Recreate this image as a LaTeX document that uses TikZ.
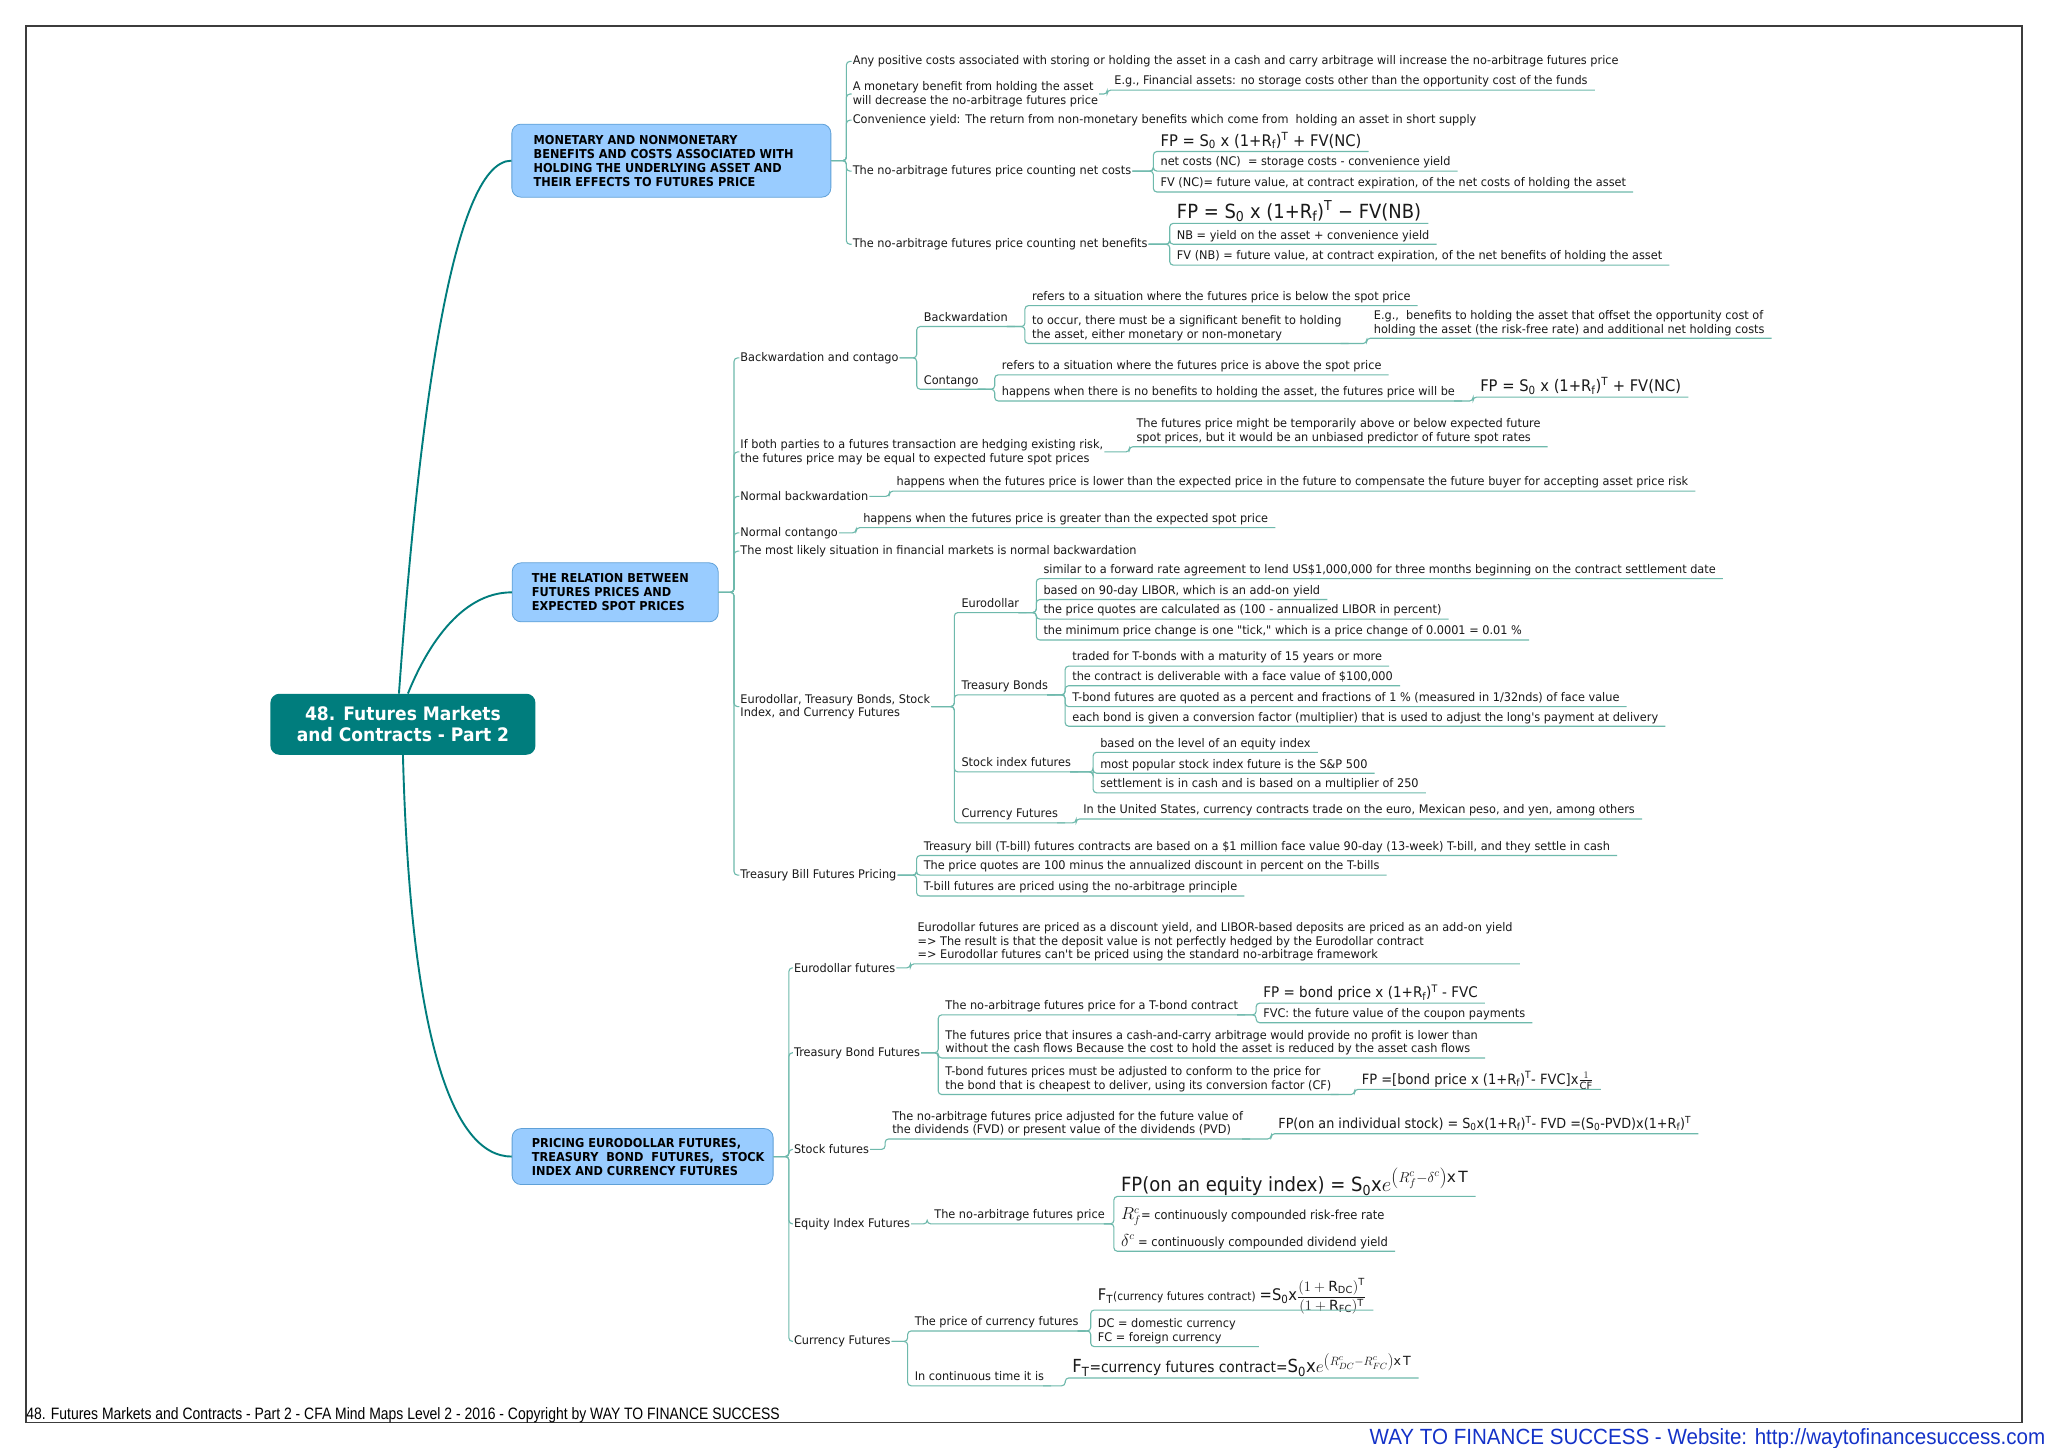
\documentclass[tikz,border=0pt]{standalone}
\usepackage{fontspec}
\usepackage{amsmath}
\setmainfont{DejaVu Sans}
\newfontfamily\mmf[FakeStretch=0.92]{DejaVu Sans}
\newfontfamily\mmsf[FakeStretch=0.95]{DejaVu Sans}
\newfontfamily\ftf[FakeStretch=0.845]{Liberation Sans}
\newfontfamily\webf[FakeStretch=0.935]{Liberation Sans}
\newcommand\mmtxt{\mmsf\fontsize{11.9pt}{13.7pt}\selectfont}
\newcommand\mmbxf{\mmf\bfseries\fontsize{12.3pt}{14pt}\selectfont}
\newcommand\mmctrf{\mmf\bfseries\fontsize{18.6pt}{21pt}\selectfont}
\newcommand\mmfs[1]{\mmf\fontsize{#1}{#1}\selectfont}
\newcommand\mmmath[1]{{\fontsize{#1}{#1}\selectfont}}
\definecolor{mteal}{RGB}{0,125,125}
\definecolor{lnc}{RGB}{110,185,172}
\definecolor{bxf}{RGB}{153,204,255}
\definecolor{bxl}{RGB}{95,160,215}
\definecolor{txt}{RGB}{25,25,25}
\definecolor{frc}{RGB}{60,60,60}
\definecolor{webc}{RGB}{20,50,200}
\tikzset{
  mmln/.style={draw=lnc, line width=1.1pt, rounded corners=3.5pt},
  mmc/.style={draw=mteal, line width=1.9pt},
  mmt/.style={font=\mmtxt, text=txt, inner sep=1pt, anchor=west, align=left},
  mmlf/.style={font=\mmtxt, text=txt, anchor=south west, inner xsep=7pt, inner ysep=2pt, text depth=3pt, align=left},
  mmbox/.style={draw=bxl, fill=bxf, line width=0.8pt, rounded corners=9pt, inner sep=0pt},
  mmbxt/.style={font=\mmbxf, text=black, anchor=west, align=left, inner sep=0pt},
  mmctrs/.style={fill=mteal, rounded corners=9pt, text=white, font=\mmctrf, align=center, inner sep=0pt}
}
\begin{document}
\begin{tikzpicture}[x=1.30612pt,y=-1.30612pt]
\fill[white] (0,0) rectangle (1568,1108.6);
\useasboundingbox (0,0) rectangle (1568,1108.6);
\draw[draw=frc, line width=1.3pt] (20,20) rectangle (1548,1089);

% central and branch boxes
\node[mmctrs, minimum width=265pt, minimum height=61pt] (ctr) at (308.5,554.5) {48. Futures Markets\\and Contracts - Part 2};
\node[mmbox, minimum width=319pt, minimum height=73pt] (m1) at (514,123) {};
\node[mmbxt] (m1t) at ([xshift=22pt]m1.west) {MONETARY AND NONMONETARY\\BENEFITS AND COSTS ASSOCIATED WITH\\HOLDING THE UNDERLYING ASSET AND\\THEIR EFFECTS TO FUTURES PRICE};
\node[mmbox, minimum width=206pt, minimum height=59pt] (m2) at (471,453.5) {};
\node[mmbxt] (m2t) at ([xshift=20pt]m2.west) {THE RELATION BETWEEN\\FUTURES PRICES AND\\EXPECTED SPOT PRICES};
\node[mmbox, minimum width=261pt, minimum height=56pt] (m3) at (492,885.5) {};
\node[mmbxt] (m3t) at ([xshift=20pt]m3.west) {PRICING EURODOLLAR FUTURES,\\TREASURY\ \ BOND\ \ FUTURES,\ \ STOCK\\INDEX AND CURRENCY FUTURES};

\draw[mmc] ([xshift=-4pt]ctr.north) .. controls (320,330) and (345,123) .. (m1.west);
\draw[mmc] ([xshift=5pt]ctr.north) .. controls (326,497) and (352,453.5) .. (m2.west);
\draw[mmc] (ctr.south) .. controls (314,790) and (345,885.5) .. (m3.west);

% ---------------- Branch 1 ----------------
\coordinate (m1j) at (648,123);
\node[mmt] (a1) at (652,47) {Any positive costs associated with storing or holding the asset in a cash and carry arbitrage will increase the no-arbitrage futures price};
\node[mmt] (a2) at (652,72) {A monetary benefit from holding the asset\\will decrease the no-arbitrage futures price};
\node[mmt] (a3) at (652,92) {Convenience yield: The return from non-monetary benefits which come from\ \ holding an asset in short supply};
\node[mmt] (a4) at (652,131) {The no-arbitrage futures price counting net costs};
\node[mmt] (a5) at (652,187) {The no-arbitrage futures price counting net benefits};
\foreach \k in {a1,a2,a3,a4,a5} \draw[mmln] (m1.east) -- (m1j) |- (\k.west);

\coordinate (a2j) at ([xshift=8pt]a2.east);
\node[mmlf] (e1) at (a2j |- 0,69) {E.g., Financial assets: no storage costs other than the opportunity cost of the funds};
\draw[mmln] (a2.east) -- (a2j) |- (e1.south east);

\coordinate (a4j) at ([xshift=21pt]a4.east);
\node[mmlf, font=\mmfs{16pt}] (f1) at (a4j |- 0,116) {FP = S\textsubscript{0} x (1+R\textsubscript{f})\textsuperscript{T} + FV(NC)};
\node[mmlf] (f2) at (a4j |- 0,131) {net costs (NC)\ \ = storage costs - convenience yield};
\node[mmlf] (f3) at (a4j |- 0,147) {FV (NC)= future value, at contract expiration, of the net costs of holding the asset};
\foreach \k in {f1,f2,f3} \draw[mmln] (a4.east) -- (a4j) |- (\k.south east);

\coordinate (a5j) at ([xshift=21pt]a5.east);
\node[mmlf, font=\mmfs{19.5pt}] (g1) at (a5j |- 0,171) {FP = S\textsubscript{0} x (1+R\textsubscript{f})\textsuperscript{T} − FV(NB)};
\node[mmlf] (g2) at (a5j |- 0,187) {NB = yield on the asset + convenience yield};
\node[mmlf] (g3) at (a5j |- 0,203) {FV (NB) = future value, at contract expiration, of the net benefits of holding the asset};
\foreach \k in {g1,g2,g3} \draw[mmln] (a5.east) -- (a5j) |- (\k.south east);

% ---------------- Branch 2 ----------------
\coordinate (m2j) at (562,453.5);
\node[mmt] (b1) at (566,274) {Backwardation and contago};
\node[mmt] (b2) at (566,346) {If both parties to a futures transaction are hedging existing risk,\\the futures price may be equal to expected future spot prices};
\node[mmt] (b3) at (566,380) {Normal backwardation};
\node[mmt] (b4) at (566,408) {Normal contango};
\node[mmt] (b5) at (566,422) {The most likely situation in financial markets is normal backwardation};
\node[mmt] (b6) at (566,541) {Eurodollar, Treasury Bonds, Stock\\Index, and Currency Futures};
\node[mmt] (b7) at (566,670) {Treasury Bill Futures Pricing};
\foreach \k in {b1,b2,b3,b4,b5,b6,b7} \draw[mmln] (m2.east) -- (m2j) |- (\k.west);

\coordinate (b1j) at ([xshift=17pt]b1.east);
\node[mmlf] (c1) at (b1j |- 0,250) {Backwardation};
\node[mmlf] (c2) at (b1j |- 0,298) {Contango};
\foreach \k in {c1,c2} \draw[mmln] (b1.east) -- (b1j) |- (\k.south east);

\coordinate (c1j) at ([xshift=10pt]c1.south east);
\node[mmlf] (d1) at (c1j |- 0,234) {refers to a situation where the futures price is below the spot price};
\node[mmlf] (d2) at (c1j |- 0,263) {to occur, there must be a significant benefit to holding\\the asset, either monetary or non-monetary};
\foreach \k in {d1,d2} \draw[mmln] ([xshift=-8pt]c1.south east) -- (c1j) |- (\k.south east);
\coordinate (d2j) at ([xshift=18pt]d2.south east);
\node[mmlf] (e2) at (d2j |- 0,259) {E.g.,\ \ benefits to holding the asset that offset the opportunity cost of\\holding the asset (the risk-free rate) and additional net holding costs};
\draw[mmln] ([xshift=-8pt]d2.south east) -- (d2j) |- (e2.south east);

\coordinate (c2j) at ([xshift=9pt]c2.south east);
\node[mmlf] (d3) at (c2j |- 0,287) {refers to a situation where the futures price is above the spot price};
\node[mmlf] (d4) at (c2j |- 0,307) {happens when there is no benefits to holding the asset, the futures price will be};
\foreach \k in {d3,d4} \draw[mmln] ([xshift=-8pt]c2.south east) -- (c2j) |- (\k.south east);
\coordinate (d4j) at ([xshift=11pt]d4.south east);
\node[mmlf, font=\mmfs{16pt}] (e4) at (d4j |- 0,304) {FP = S\textsubscript{0} x (1+R\textsubscript{f})\textsuperscript{T} + FV(NC)};
\draw[mmln] ([xshift=-8pt]d4.south east) -- (d4j) |- (e4.south east);

\coordinate (b2j) at ([xshift=25pt]b2.east);
\node[mmlf] (h2) at (b2j |- 0,342) {The futures price might be temporarily above or below expected future\\spot prices, but it would be an unbiased predictor of future spot rates};
\draw[mmln] (b2.east) -- (b2j) |- (h2.south east);
\coordinate (b3j) at ([xshift=20pt]b3.east);
\node[mmlf] (h3) at (b3j |- 0,376) {happens when the futures price is lower than the expected price in the future to compensate the future buyer for accepting asset price risk};
\draw[mmln] (b3.east) -- (b3j) |- (h3.south east);
\coordinate (b4j) at ([xshift=17pt]b4.east);
\node[mmlf] (h4) at (b4j |- 0,404) {happens when the futures price is greater than the expected spot price};
\draw[mmln] (b4.east) -- (b4j) |- (h4.south east);

\coordinate (b6j) at ([xshift=23pt]b6.east);
\node[mmlf] (c3) at (b6j |- 0,469) {Eurodollar};
\node[mmlf] (c4) at (b6j |- 0,532) {Treasury Bonds};
\node[mmlf] (c5) at (b6j |- 0,591) {Stock index futures};
\node[mmlf] (c6) at (b6j |- 0,630) {Currency Futures};
\foreach \k in {c3,c4,c5,c6} \draw[mmln] (b6.east) -- (b6j) |- (\k.south east);

\coordinate (c3j) at ([xshift=10pt]c3.south east);
\node[mmlf] (d5) at (c3j |- 0,443) {similar to a forward rate agreement to lend US\$1,000,000 for three months beginning on the contract settlement date};
\node[mmlf] (d6) at (c3j |- 0,459) {based on 90-day LIBOR, which is an add-on yield};
\node[mmlf] (d7) at (c3j |- 0,474) {the price quotes are calculated as (100 - annualized LIBOR in percent)};
\node[mmlf] (d8) at (c3j |- 0,490) {the minimum price change is one "tick," which is a price change of 0.0001 = 0.01 \%};
\foreach \k in {d5,d6,d7,d8} \draw[mmln] ([xshift=-8pt]c3.south east) -- (c3j) |- (\k.south east);

\coordinate (c4j) at ([xshift=10pt]c4.south east);
\node[mmlf] (d9) at (c4j |- 0,510) {traded for T-bonds with a maturity of 15 years or more};
\node[mmlf] (d10) at (c4j |- 0,525) {the contract is deliverable with a face value of \$100,000};
\node[mmlf] (d11) at (c4j |- 0,541) {T-bond futures are quoted as a percent and fractions of 1 \% (measured in 1/32nds) of face value};
\node[mmlf] (d12) at (c4j |- 0,556) {each bond is given a conversion factor (multiplier) that is used to adjust the long's payment at delivery};
\foreach \k in {d9,d10,d11,d12} \draw[mmln] ([xshift=-8pt]c4.south east) -- (c4j) |- (\k.south east);

\coordinate (c5j) at ([xshift=15pt]c5.south east);
\node[mmlf] (d13) at (c5j |- 0,576) {based on the level of an equity index};
\node[mmlf] (d14) at (c5j |- 0,592) {most popular stock index future is the S\&P 500};
\node[mmlf] (d15) at (c5j |- 0,607) {settlement is in cash and is based on a multiplier of 250};
\foreach \k in {d13,d14,d15} \draw[mmln] ([xshift=-8pt]c5.south east) -- (c5j) |- (\k.south east);

\coordinate (c6j) at ([xshift=11pt]c6.south east);
\node[mmlf] (d16) at (c6j |- 0,627) {In the United States, currency contracts trade on the euro, Mexican peso, and yen, among others};
\draw[mmln] ([xshift=-8pt]c6.south east) -- (c6j) |- (d16.south east);

\coordinate (b7j) at ([xshift=19pt]b7.east);
\node[mmlf] (d17) at (b7j |- 0,655) {Treasury bill (T-bill) futures contracts are based on a \$1 million face value 90-day (13-week) T-bill, and they settle in cash};
\node[mmlf] (d18) at (b7j |- 0,670) {The price quotes are 100 minus the annualized discount in percent on the T-bills};
\node[mmlf] (d19) at (b7j |- 0,686) {T-bill futures are priced using the no-arbitrage principle};
\foreach \k in {d17,d18,d19} \draw[mmln] (b7.east) -- (b7j) |- (\k.south east);

% ---------------- Branch 3 ----------------
\coordinate (m3j) at (604,885.5);
\node[mmt] (p1) at (607,741) {Eurodollar futures};
\node[mmt] (p2) at (607,806) {Treasury Bond Futures};
\node[mmt] (p3) at (607,880) {Stock futures};
\node[mmt] (p4) at (607,937) {Equity Index Futures};
\node[mmt] (p5) at (607,1027) {Currency Futures};
\foreach \k in {p1,p2,p3,p4,p5} \draw[mmln] (m3.east) -- (m3j) |- (\k.west);

\coordinate (p1j) at ([xshift=14pt]p1.east);
\node[mmlf] (k1) at (p1j |- 0,738) {Eurodollar futures are priced as a discount yield, and LIBOR-based deposits are priced as an add-on yield\\=> The result is that the deposit value is not perfectly hedged by the Eurodollar contract\\=> Eurodollar futures can't be priced using the standard no-arbitrage framework\hspace*{14pt}};
\draw[mmln] (p1.east) -- (p1j) |- (k1.south east);

\coordinate (p2j) at ([xshift=17pt]p2.east);
\node[mmlf] (q1) at (p2j |- 0,777) {The no-arbitrage futures price for a T-bond contract};
\node[mmlf] (q2) at (p2j |- 0,810) {The futures price that insures a cash-and-carry arbitrage would provide no profit is lower than\\without the cash flows Because the cost to hold the asset is reduced by the asset cash flows};
\node[mmlf] (q3) at (p2j |- 0,838) {T-bond futures prices must be adjusted to conform to the price for\\the bond that is cheapest to deliver, using its conversion factor (CF)};
\foreach \k in {q1,q2,q3} \draw[mmln] (p2.east) -- (p2j) |- (\k.south east);

\coordinate (q1j) at ([xshift=11pt]q1.south east);
\node[mmlf, font=\mmfs{14.7pt}] (r1) at (q1j |- 0,768) {FP = bond price x (1+R\textsubscript{f})\textsuperscript{T} - FVC};
\node[mmlf] (r2) at (q1j |- 0,783) {FVC: the future value of the coupon payments};
\foreach \k in {r1,r2} \draw[mmln] ([xshift=-8pt]q1.south east) -- (q1j) |- (\k.south east);

\coordinate (q3j) at ([xshift=16pt]q3.south east);
\node[mmlf, font=\mmfs{14.2pt}] (r3) at (q3j |- 0,834) {FP =[bond price x (1+R\textsubscript{f})\textsuperscript{T}- FVC]x$\frac{1}{\mathrm{CF}}$};
\draw[mmln] ([xshift=-8pt]q3.south east) -- (q3j) |- (r3.south east);

\coordinate (p3j) at ([xshift=15pt]p3.east);
\node[mmlf] (s1) at (p3j |- 0,872) {The no-arbitrage futures price adjusted for the future value of\\the dividends (FVD) or present value of the dividends (PVD)};
\draw[mmln] (p3.east) -- (p3j) |- (s1.south east);
\coordinate (s1j) at ([xshift=21pt]s1.south east);
\node[mmlf, font=\mmfs{13.9pt}] (s2) at (s1j |- 0,868) {FP(on an individual stock) = S\textsubscript{0}x(1+R\textsubscript{f})\textsuperscript{T}- FVD =(S\textsubscript{0}-PVD)x(1+R\textsubscript{f})\textsuperscript{T}};
\draw[mmln] ([xshift=-8pt]s1.south east) -- (s1j) |- (s2.south east);

\coordinate (p4j) at ([xshift=16pt]p4.east);
\node[mmlf] (t1) at (p4j |- 0,937) {The no-arbitrage futures price};
\draw[mmln] (p4.east) -- (p4j) |- (t1.south east);
\coordinate (t1j) at ([xshift=2pt]t1.south east);
\node[mmlf, font=\mmfs{19.6pt}] (u1) at (t1j |- 0,916) {FP(on an equity index) = S\textsubscript{0}x{\fontsize{22pt}{22pt}\selectfont$e^{\left(R_f^c-\delta^c\right)\mathrm{x\,T}}$}};
\node[mmlf, font=\mmfs{12.5pt}] (u2) at (t1j |- 0,958) {{\fontsize{16pt}{16pt}\selectfont$R_f^c$}= continuously compounded risk-free rate\\[7pt]{\fontsize{16pt}{16pt}\selectfont$\delta^c$} = continuously compounded dividend yield};
\foreach \k in {u1,u2} \draw[mmln] ([xshift=-8pt]t1.south east) -- (t1j) |- (\k.south east);

\coordinate (p5j) at ([xshift=16pt]p5.east);
\node[mmlf] (v1) at (p5j |- 0,1019) {The price of currency futures};
\node[mmlf] (v2) at (p5j |- 0,1061) {In continuous time it is};
\foreach \k in {v1,v2} \draw[mmln] (p5.east) -- (p5j) |- (\k.south east);

\coordinate (v1j) at ([xshift=5pt]v1.south east);
\node[mmlf, font=\mmfs{14pt}, text depth=7pt] (w1) at (v1j |- 0,1003) {{\mmfs{16pt}F\textsubscript{T}}{\mmfs{11.5pt}(currency futures contract)}\ {\mmfs{16pt}=S\textsubscript{0}x}$\dfrac{(1+\mathrm{R}_{\mathrm{DC}})^{\mathrm{T}}}{(1+\mathrm{R}_{\mathrm{FC}})^{\mathrm{T}}}$};
\node[mmlf] (w2) at (v1j |- 0,1031) {DC = domestic currency\\FC = foreign currency\hspace*{30pt}};
\foreach \k in {w1,w2} \draw[mmln] ([xshift=-8pt]v1.south east) -- (v1j) |- (\k.south east);

\coordinate (v2j) at ([xshift=14pt]v2.south east);
\node[mmlf, font=\mmfs{15pt}] (w3) at (v2j |- 0,1055) {{\mmfs{18pt}F\textsubscript{T}}=currency futures contract={\mmfs{18pt}S\textsubscript{0}x}{\fontsize{18pt}{18pt}\selectfont$e^{\left(R_{DC}^c-R_{FC}^c\right)\mathrm{x\,T}}$}};
\draw[mmln] ([xshift=-8pt]v2.south east) -- (v2j) |- (w3.south east);

% footer
\node[anchor=base west, inner sep=0pt, font=\ftf\fontsize{16.5pt}{18pt}\selectfont] (foot) at (20,1087) {48. Futures Markets and Contracts - Part 2 - CFA Mind Maps Level 2 - 2016 - Copyright by WAY TO FINANCE SUCCESS};
\node[anchor=base east, inner sep=0pt, text=webc, font=\webf\fontsize{22pt}{24pt}\selectfont] (web) at (1566,1106) {WAY TO FINANCE SUCCESS - Website: http://waytofinancesuccess.com};
\end{tikzpicture}
\end{document}
